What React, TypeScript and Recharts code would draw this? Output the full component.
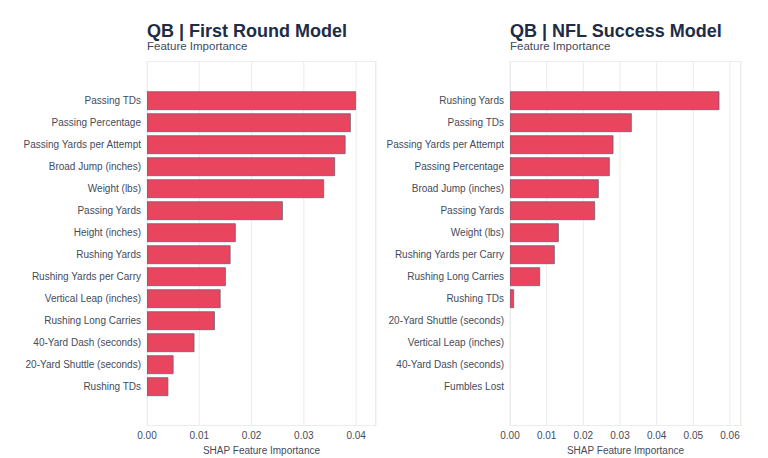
import { BarChart, Bar, XAxis, YAxis, CartesianGrid, Label } from 'recharts';

const firstRoundFeatures = [
  'Passing TDs',
  'Passing Percentage',
  'Passing Yards per Attempt',
  'Broad Jump (inches)',
  'Weight (lbs)',
  'Passing Yards',
  'Height (inches)',
  'Rushing Yards',
  'Rushing Yards per Carry',
  'Vertical Leap (inches)',
  'Rushing Long Carries',
  '40-Yard Dash (seconds)',
  '20-Yard Shuttle (seconds)',
  'Rushing TDs',
];
const firstRoundShap = [0.0399, 0.0389, 0.0379, 0.0359, 0.0338, 0.0259, 0.0169, 0.0159, 0.015, 0.014, 0.0129, 0.009, 0.005, 0.004];

const successFeatures = [
  'Rushing Yards',
  'Passing TDs',
  'Passing Yards per Attempt',
  'Passing Percentage',
  'Broad Jump (inches)',
  'Passing Yards',
  'Weight (lbs)',
  'Rushing Yards per Carry',
  'Rushing Long Carries',
  'Rushing TDs',
  '20-Yard Shuttle (seconds)',
  'Vertical Leap (inches)',
  '40-Yard Dash (seconds)',
  'Fumbles Lost',
];
const successShap = [0.057, 0.0331, 0.0281, 0.0271, 0.0241, 0.0231, 0.0132, 0.0121, 0.0081, 0.001, 0, 0, 0, 0];

const firstRoundTicks = [0, 0.01, 0.02, 0.03, 0.04];
const successTicks = [0, 0.01, 0.02, 0.03, 0.04, 0.05, 0.06];

const FONT = '"Liberation Sans", Arial, Helvetica, sans-serif';
const BAR = '#e9455f';
const GRID = '#ececec';
const TICK_COLOR = '#444b5c';

// single-line category label, right aligned against the plot
function FeatureTick(props: any) {
  const { x, y, payload } = props;
  return (
    <text x={x} y={y} dy="0.355em" textAnchor="end" fontSize={10} fill={TICK_COLOR} fontFamily={FONT}>
      {payload.value}
    </text>
  );
}

type PanelProps = {
  title: string;
  features: string[];
  values: number[];
  ticks: number[];
  xMax: number;
  left: number;
  labelWidth: number;
  rightGap: number;
};

function Panel({ title, features, values, ticks, xMax, left, labelWidth, rightGap }: PanelProps) {
  const data = features.map((feature, i) => ({ feature, shap: values[i] }));
  const width = 384;
  const height = 458;
  const top = 61;
  const axisH = 32;
  const plotW = width - labelWidth - rightGap;

  return (
    <div style={{ position: 'absolute', left, top: 0, width, height }}>
      <div style={{ position: 'absolute', left: labelWidth, top: 22, fontSize: 18, lineHeight: '18px', fontWeight: 700, color: '#202c46', whiteSpace: 'nowrap' }}>
        {title}
      </div>
      <div style={{ position: 'absolute', left: labelWidth, top: 40, fontSize: 11.5, lineHeight: '12px', color: '#404a5c', whiteSpace: 'nowrap' }}>
        Feature Importance
      </div>
      {/* light frame around the plotting area */}
      <div style={{ position: 'absolute', left: labelWidth, top, width: plotW, height: height - top - axisH, border: `1px solid ${GRID}`, boxSizing: 'border-box' }} />
      <div style={{ position: 'absolute', left: 0, top: 0 }}>
        <BarChart
          width={width}
          height={height}
          data={data}
          layout="vertical"
          margin={{ top, right: rightGap, bottom: 0, left: 0 }}
          barCategoryGap="10%"
        >
          <CartesianGrid horizontal={false} stroke={GRID} />
          <XAxis
            type="number"
            domain={[0, xMax]}
            ticks={ticks}
            allowDataOverflow
            tickFormatter={(v: number) => v.toFixed(2)}
            tick={{ fontSize: 10, fill: TICK_COLOR, fontFamily: FONT }}
            tickLine={false}
            axisLine={false}
            tickSize={0}
            tickMargin={6}
            height={axisH}
          >
            <Label value="SHAP Feature Importance" position="insideBottom" offset={4} style={{ fontSize: 10, fill: TICK_COLOR, fontFamily: FONT }} />
          </XAxis>
          <YAxis
            type="category"
            dataKey="feature"
            width={labelWidth}
            padding={{ top: 28.5, bottom: 28.5 }}
            tick={<FeatureTick />}
            tickLine={false}
            axisLine={false}
            tickSize={0}
            tickMargin={6}
            interval={0}
          />
          <Bar dataKey="shap" fill={BAR} stroke="#5d6074" strokeOpacity={0.75} strokeWidth={1} isAnimationActive={false} />
        </BarChart>
      </div>
    </div>
  );
}

export default function App() {
  return (
    <div style={{ position: 'absolute', left: 0, top: 0, width: 768, height: 458, background: '#fff', fontFamily: FONT, overflow: 'hidden' }}>
      <Panel
        title="QB | First Round Model"
        features={firstRoundFeatures}
        values={firstRoundShap}
        ticks={firstRoundTicks}
        xMax={0.0438}
        left={0}
        labelWidth={147}
        rightGap={8}
      />
      <Panel
        title="QB | NFL Success Model"
        features={successFeatures}
        values={successShap}
        ticks={successTicks}
        xMax={0.063}
        left={384}
        labelWidth={126}
        rightGap={27}
      />
    </div>
  );
}
